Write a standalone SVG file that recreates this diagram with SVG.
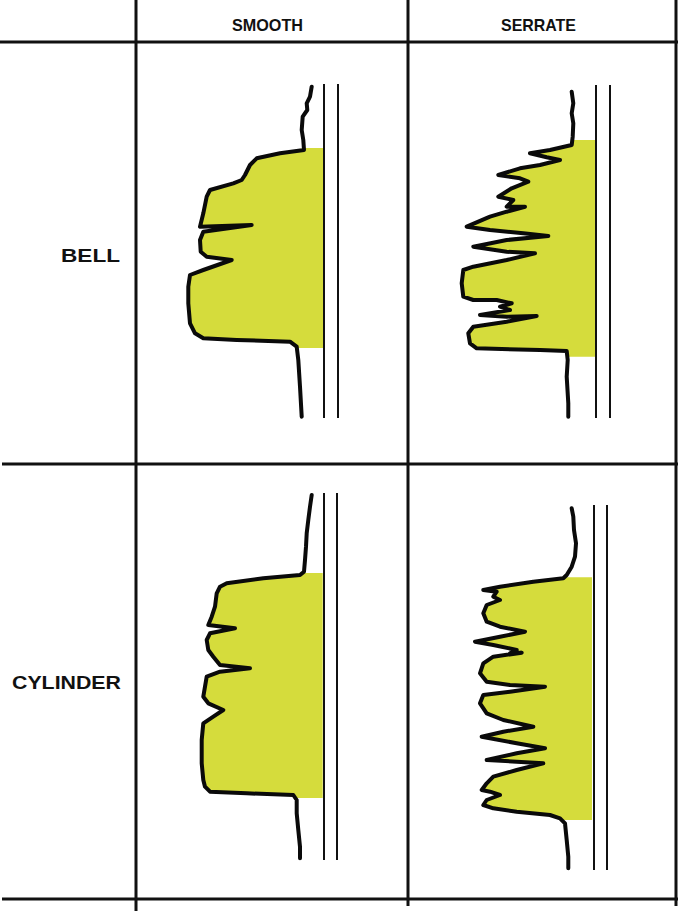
<svg xmlns="http://www.w3.org/2000/svg" width="685" height="911" viewBox="0 0 685 911">
<style>
.grid{stroke:#111;stroke-width:3;fill:none}
.log{stroke:#0a0a0a;stroke-width:4;fill:none;stroke-linejoin:round;stroke-linecap:round}
.track{stroke:#111;stroke-width:2;fill:none}
.sand{fill:#d5dc3c;stroke:none}
.lbl{font-family:"Liberation Sans",Arial,sans-serif;font-weight:bold;fill:#111}
</style>
<rect width="685" height="911" fill="#fff"/>
<g id="grid">
<line class="grid" x1="0" y1="42" x2="678" y2="42"/>
<line class="grid" x1="2" y1="464" x2="678" y2="464"/>
<line class="grid" x1="2" y1="899" x2="678" y2="899"/>
<line class="grid" x1="136" y1="0" x2="136" y2="911"/>
<line class="grid" x1="408" y1="0" x2="408" y2="906"/>
<line class="grid" x1="676" y1="0" x2="676" y2="906"/>
</g>
<g id="labels">
<text class="lbl" x="232" y="31" font-size="17" textLength="71" lengthAdjust="spacingAndGlyphs">SMOOTH</text>
<text class="lbl" x="501" y="31" font-size="17" textLength="75" lengthAdjust="spacingAndGlyphs">SERRATE</text>
<text class="lbl" x="61" y="262" font-size="19" textLength="59" lengthAdjust="spacingAndGlyphs">BELL</text>
<text class="lbl" x="12" y="689" font-size="19" textLength="109" lengthAdjust="spacingAndGlyphs">CYLINDER</text>
</g>
<g id="bell-smooth">
<path class="sand" d="M323,148 L304,148 L280,153.3 256.7,158.3 250,165 245,175 241.7,180 233.3,183.3 210,190 206.7,196.7 203.3,213.3 200,226.7 251.7,225 203.3,231.7 200,240 200.7,251.7 206.7,256.7 231.7,260 203.3,270 190,275 188.3,286.7 188.3,303.3 190,323.3 195,333.3 203.3,338.3 236.7,340 290,341.7 296.7,348 L323,348 Z"/>
<line class="track" x1="324" y1="84" x2="324" y2="418"/>
<line class="track" x1="338" y1="84" x2="338" y2="418"/>
<path class="log" d="M311.7,86.7 L310,96.7 306.7,103.3 307.3,110 302.7,116.7 301.7,130 303.3,140 304,150 280,153.3 256.7,158.3 250,165 245,175 241.7,180 233.3,183.3 210,190 206.7,196.7 203.3,213.3 200,226.7 251.7,225 203.3,231.7 200,240 200.7,251.7 206.7,256.7 231.7,260 203.3,270 190,275 188.3,286.7 188.3,303.3 190,323.3 195,333.3 203.3,338.3 236.7,340 290,341.7 296.7,346.7 298.3,360 300,386.7 301.7,416.7"/>
</g>
<g id="bell-serrate">
<path class="sand" d="M595,140 L572,140 571.7,145 550,150 530,153.3 546.7,157.3 560,160 540,165 520,168.3 498.3,175 520,178.3 528.3,181.7 511.7,188.3 498.3,196.7 513.3,200 506.7,206.7 525,206.7 506.7,211.7 490,216.7 466.7,226.7 490,230 523.3,233.3 548.3,236 506.7,240 473.3,246.7 506.7,251.7 535,253.3 506.7,260 473.3,266.7 463.3,270 461.7,283.3 463.3,296.7 473.3,300 496.7,300 511.7,303.3 500,306.7 510,310 480,315 506.7,316.7 536.7,316 506.7,321.7 473.3,326.7 468.3,333.3 470,343.3 476.7,348.3 540,350 566.7,351 567.7,356.7 L595,356.7 Z"/>
<line class="track" x1="596" y1="85" x2="596" y2="418"/>
<line class="track" x1="610" y1="85" x2="610" y2="418"/>
<path class="log" d="M571.7,91.7 L573.3,103.3 571.7,113.3 573.3,123.3 572.7,136.7 571.7,145 550,150 530,153.3 546.7,157.3 560,160 540,165 520,168.3 498.3,175 520,178.3 528.3,181.7 511.7,188.3 498.3,196.7 513.3,200 506.7,206.7 525,206.7 506.7,211.7 490,216.7 466.7,226.7 490,230 523.3,233.3 548.3,236 506.7,240 473.3,246.7 506.7,251.7 535,253.3 506.7,260 473.3,266.7 463.3,270 461.7,283.3 463.3,296.7 473.3,300 496.7,300 511.7,303.3 500,306.7 510,310 480,315 506.7,316.7 536.7,316 506.7,321.7 473.3,326.7 468.3,333.3 470,343.3 476.7,348.3 540,350 566.7,351 567.7,360 566.7,376.7 568.3,403.3 568.3,416.7"/>
</g>
<g id="cylinder-smooth">
<path class="sand" d="M322.7,573 L304,573 300,575 263.3,578.3 226.7,583.3 220,586.7 216.7,593.3 215,606.7 211.7,616.7 208.3,625 235,628.3 210,633.3 206.7,640 208.3,650 213.3,656.7 220,665 250,668.3 220,671.7 206.7,676.7 205,686.7 203.3,696.7 208.3,703.3 223.3,710 213.3,716.7 203.3,723.3 201.7,740 201.7,763.3 203.3,780 205,786.7 210,791.7 246.7,793.3 293.3,795 296.7,798 L322.7,798 Z"/>
<line class="track" x1="324" y1="493" x2="324" y2="860"/>
<line class="track" x1="337" y1="493" x2="337" y2="860"/>
<path class="log" d="M311.7,495 L310,506.7 308.3,520 306.7,533.3 306,546.7 305,560 304,571.7 300,575 263.3,578.3 226.7,583.3 220,586.7 216.7,593.3 215,606.7 211.7,616.7 208.3,625 235,628.3 210,633.3 206.7,640 208.3,650 213.3,656.7 220,665 250,668.3 220,671.7 206.7,676.7 205,686.7 203.3,696.7 208.3,703.3 223.3,710 213.3,716.7 203.3,723.3 201.7,740 201.7,763.3 203.3,780 205,786.7 210,791.7 246.7,793.3 293.3,795 296.7,800 296.7,813.3 298.3,830 300,846.7 300,858.3"/>
</g>
<g id="cylinder-serrate">
<path class="sand" d="M592,577.3 L566,577.3 563.3,578.3 533.3,581.7 500,586.7 483.3,590 496.7,591.7 493.3,596.7 500,600 486.7,605 483.3,613.3 486.7,621.7 500,626.7 525,631.7 500,636.7 475,641.7 493.3,645 516.7,650 510,653.3 521.7,652.7 493.3,656.7 483.3,663.3 480,673.3 486.7,681.7 510,685 545,686.7 510,691.7 483.3,695 480,703.3 486.7,713.3 503.3,720 533.3,726.7 503.3,731.7 481.7,736.7 516.7,743.3 545,748.3 516.7,753.3 486.7,760 516.7,761.7 543.3,763.3 516.7,770 493.3,776.7 486.7,783.3 481.7,790 490,791.7 500,795 486.7,800 483.3,805 493.3,808.3 516.7,811.7 550,815 560,818.3 563,820 L592,820 Z"/>
<line class="track" x1="594" y1="505" x2="594" y2="870"/>
<line class="track" x1="607" y1="505" x2="607" y2="870"/>
<path class="log" d="M571.7,508.3 L573.3,516.7 574,530 576,543.3 575,556.7 571.7,566.7 566.7,575 563.3,578.3 533.3,581.7 500,586.7 483.3,590 496.7,591.7 493.3,596.7 500,600 486.7,605 483.3,613.3 486.7,621.7 500,626.7 525,631.7 500,636.7 475,641.7 493.3,645 516.7,650 510,653.3 521.7,652.7 493.3,656.7 483.3,663.3 480,673.3 486.7,681.7 510,685 545,686.7 510,691.7 483.3,695 480,703.3 486.7,713.3 503.3,720 533.3,726.7 503.3,731.7 481.7,736.7 516.7,743.3 545,748.3 516.7,753.3 486.7,760 516.7,761.7 543.3,763.3 516.7,770 493.3,776.7 486.7,783.3 481.7,790 490,791.7 500,795 486.7,800 483.3,805 493.3,808.3 516.7,811.7 550,815 560,818.3 565,823.3 566.7,840 568.3,856.7 568.3,868.3"/>
</g>
</svg>
